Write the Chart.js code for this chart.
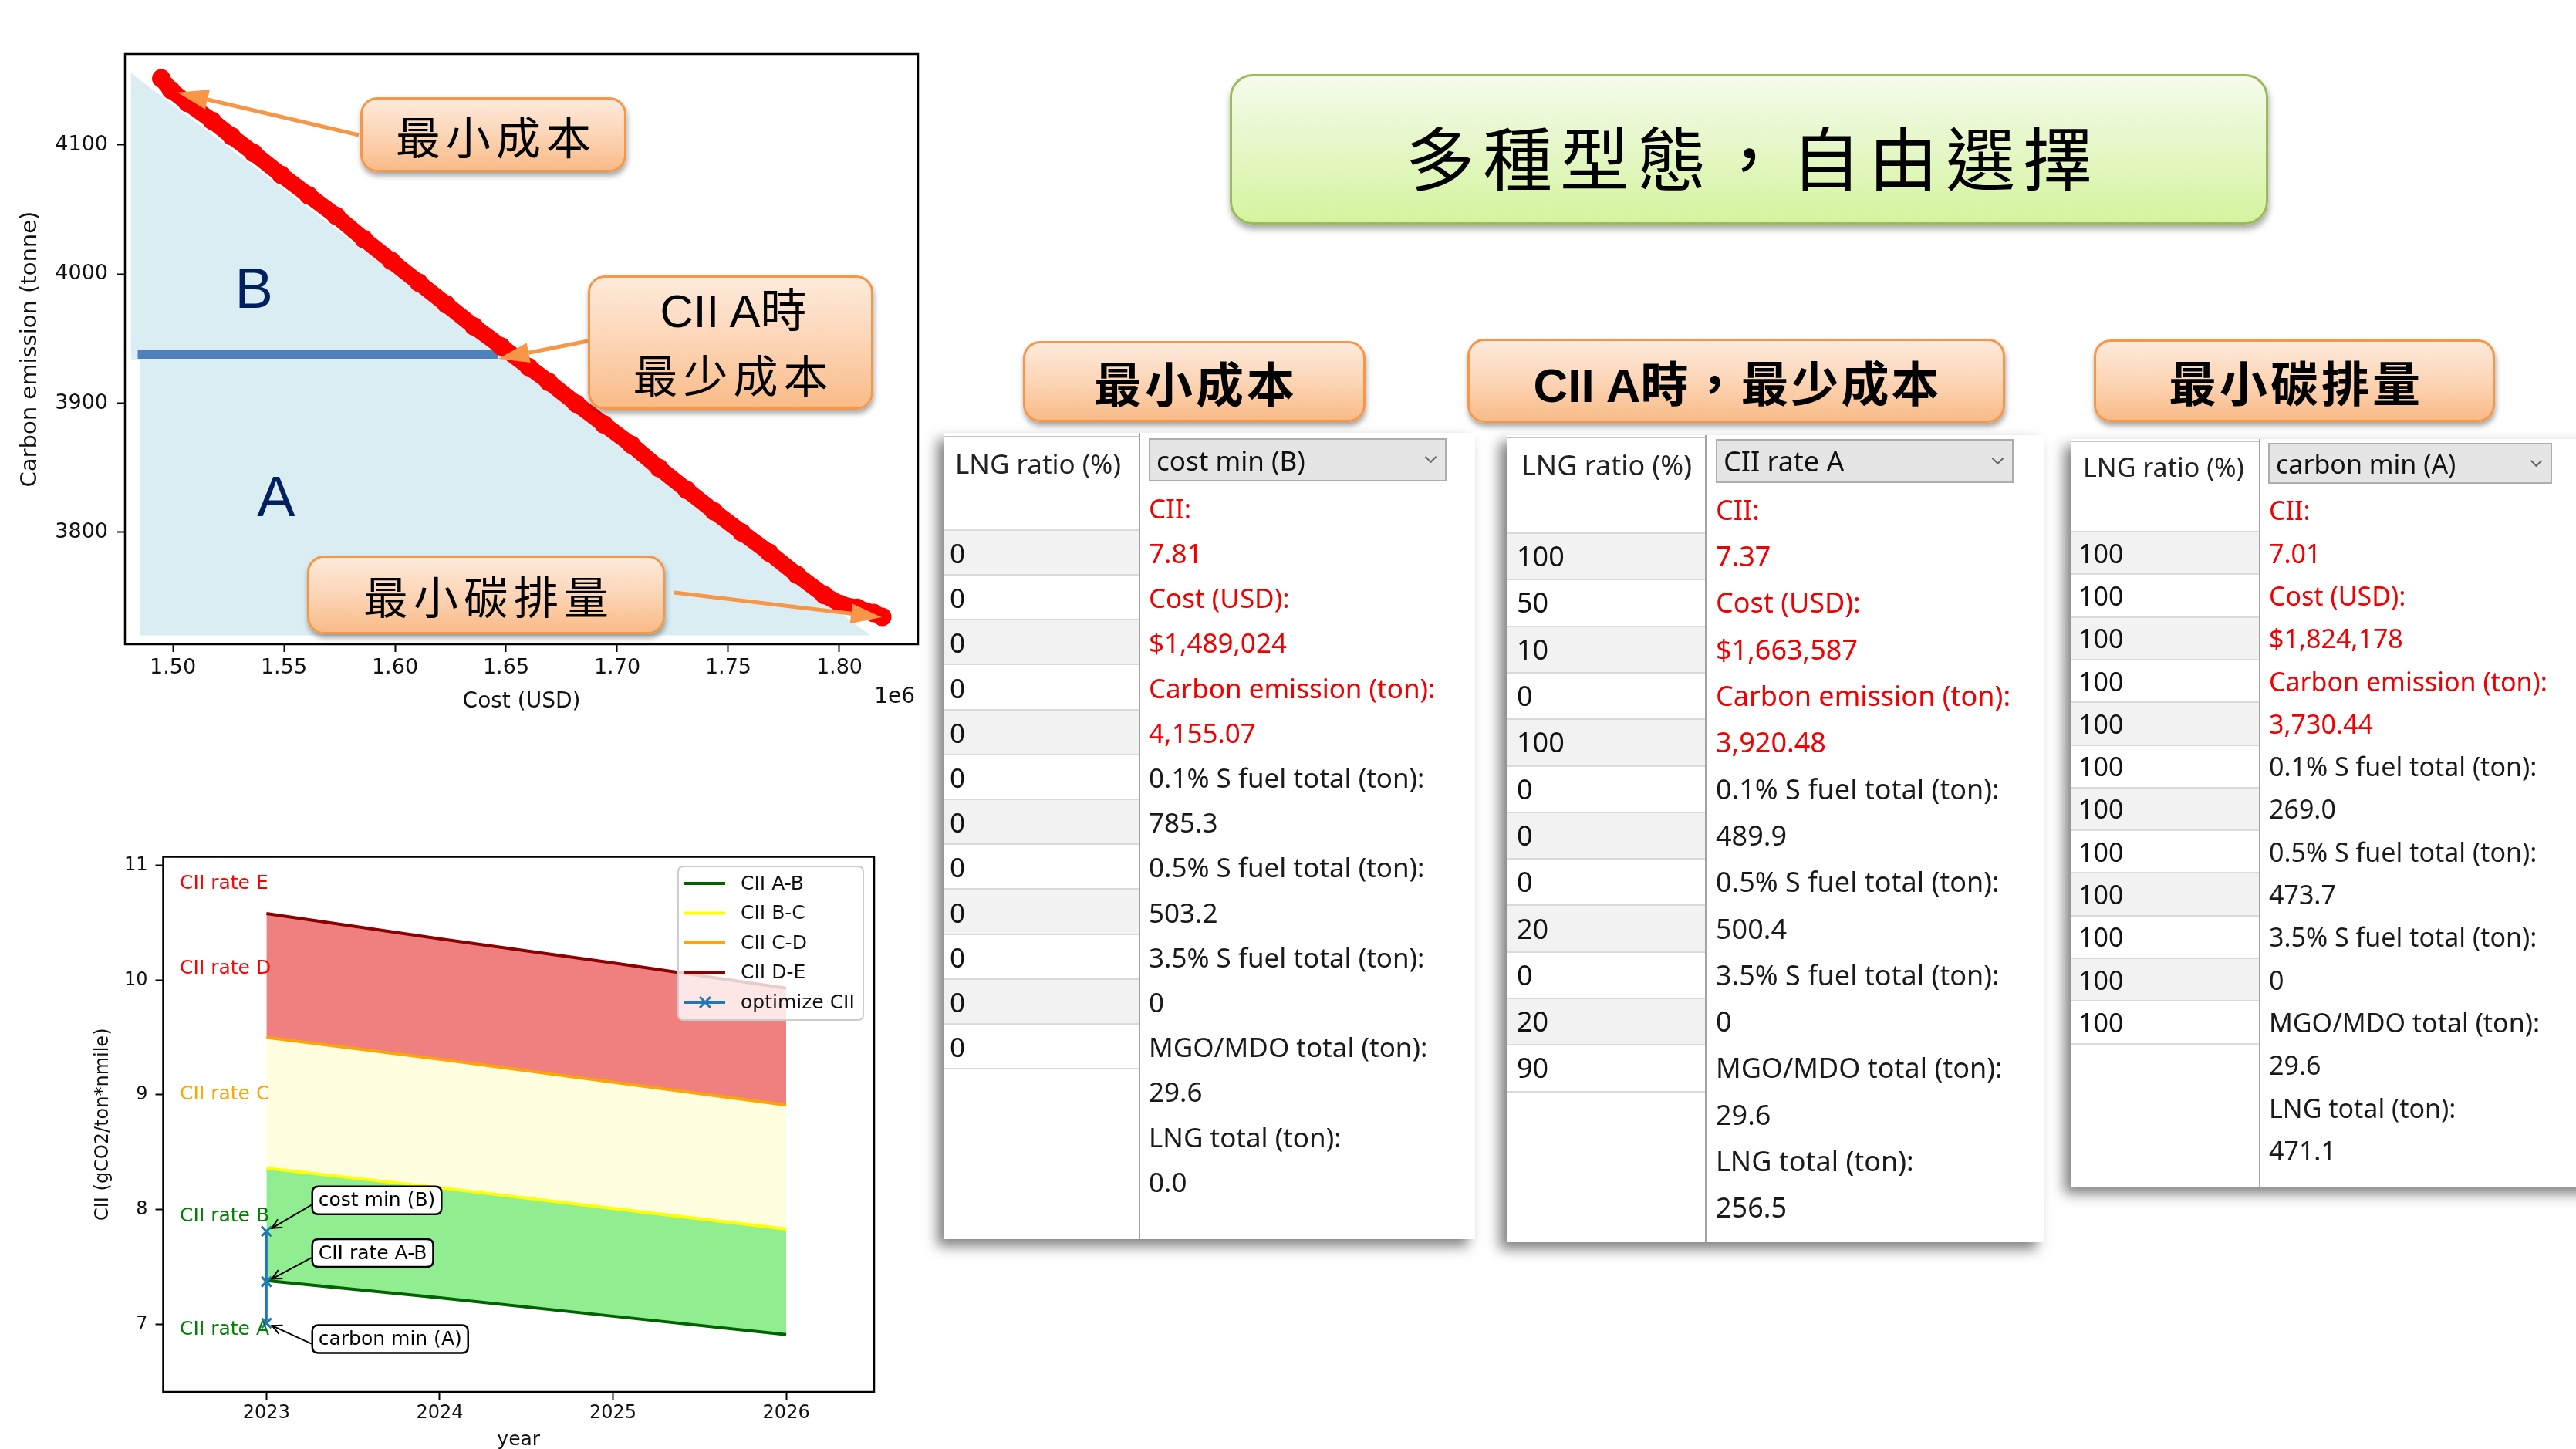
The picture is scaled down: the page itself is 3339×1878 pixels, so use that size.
<!DOCTYPE html>
<html>
<head>
<meta charset="utf-8">
<title>多種型態，自由選擇</title>
<script src="https://cdn.jsdelivr.net/npm/chart.js@4.4.1/dist/chart.umd.min.js"></script>
<style>
html,body{margin:0;padding:0;background:#fff}
body{position:relative;width:3339px;height:1878px;overflow:hidden}
.wrap{position:absolute}
.riquadro{position:absolute;box-sizing:border-box;display:flex;flex-direction:column;align-items:center;justify-content:center;white-space:nowrap;color:#000;font-family:"Noto Sans CJK TC","Noto Sans CJK SC",sans-serif}
.arancio{border:3px solid #f79646;border-radius:22px;background:linear-gradient(180deg,#fdeadb 0%,#fcd5b6 50%,#f9bb88 100%);box-shadow:1px 5px 7px rgba(0,0,0,.35)}
.verde{border:3px solid #9bbb59;border-radius:30px;background:linear-gradient(180deg,#f5fbec 0%,#e5f7c6 50%,#d5f49f 100%);box-shadow:1px 6px 9px rgba(0,0,0,.35)}
.lat{font-family:"Liberation Sans","Noto Sans CJK TC",sans-serif}
.pannello{position:absolute;background:#fff;box-shadow:-9px 9px 16px rgba(0,0,0,.5);font-family:"Noto Sans",sans-serif;overflow:hidden}
.pannello div{position:absolute}
.pannello .t{line-height:1;white-space:nowrap;transform:translateY(-50%)}
.tendina{box-sizing:border-box;background:#e5e5e5;border:2px solid #adadad}
.pannello .freccina{width:9px;height:9px;border-right:2px solid #666;border-bottom:2px solid #666;transform:rotate(45deg)}
</style>
</head>
<body>
<div class="wrap" style="left:0;top:0;width:1230px;height:940px"><canvas id="grafCosto"></canvas></div>
<div class="wrap" style="left:100px;top:1080px;width:1100px;height:798px"><canvas id="grafCII"></canvas></div>

<div class="riquadro arancio" style="left:467px;top:126px;width:345px;height:97px;font-size:58px;letter-spacing:7px;padding-left:7px"><span>最小成本</span></div>
<div class="riquadro arancio" style="left:762px;top:357px;width:370px;height:174px;font-size:58px;line-height:81px;padding-left:7px"><span class="lat" style="font-size:60px">CII A時</span><span style="letter-spacing:7px">最少成本</span></div>
<div class="riquadro arancio" style="left:398px;top:720px;width:464px;height:102px;font-size:58px;letter-spacing:7px;padding-left:7px"><span>最小碳排量</span></div>

<div class="riquadro verde" style="left:1594px;top:96px;width:1346px;height:195px;font-size:90px;letter-spacing:10px;padding-left:10px;padding-top:14px"><span>多種型態，自由選擇</span></div>

<div class="riquadro arancio" style="left:1326px;top:442px;width:444px;height:105px;font-size:62px;font-weight:700;letter-spacing:4px;padding-left:4px"><span>最小成本</span></div>
<div class="riquadro arancio" style="left:1902px;top:439px;width:697px;height:109px;font-size:62px;font-weight:700;letter-spacing:3px;padding-left:3px"><span><span class="lat" style="letter-spacing:0">CII A</span>時，最少成本</span></div>
<div class="riquadro arancio" style="left:2714px;top:440px;width:520px;height:107px;font-size:62px;font-weight:700;letter-spacing:4px;padding-left:4px"><span>最小碳排量</span></div>

<div id="pannello1" class="pannello"></div>
<div id="pannello2" class="pannello"></div>
<div id="pannello3" class="pannello"></div>

<script>
// ---- costo / emissioni (scatter rosso) ----
var costoUSD=[1494800,1499100,1506500,1517700,1526400,1536300,1548700,1561100,1573500,1585900,1598300,1610700,1623100,1635500,1647800,1660200,1669200,1681600,1694000,1706400,1718800,1731300,1743600,1756000,1768400,1780800,1793200,1800600,1808100,1815500,1819300];
var emissioneT=[4151.6,4142.7,4132.7,4118.8,4106.8,4093.9,4077.0,4061.0,4045.1,4027.2,4010.3,3993.4,3976.5,3959.5,3944.0,3928.0,3916.5,3899.6,3883.6,3867.8,3849.8,3832.8,3816.1,3799.9,3784.2,3767.2,3751.3,3744.3,3741.4,3737.4,3734.4];
var zonaBx=[1481100,1650500], zonaBy=[4155.9,3934];
var zonaAx=[1485400,1650500,1813900], zonaAy=[3934,3934,3720];
var lineaAx=[1484200,1646400], lineaAy=[3938,3938];
var tickCosto=[1500000,1550000,1600000,1650000,1700000,1750000,1800000];
var tickEmissione=[3800,3900,4000,4100];
var zonaNomi=["B","A"], zonaNomiX=[1536500,1546500], zonaNomiY=[3988,3826.5];
var frecciaX=[1502100,1646500,1819100], frecciaY=[4140.7,3934.4,3734.1];

// ---- CII per anno ----
var anni=[2023,2024,2025,2026];
var ciiAB=[7.38,7.23,7.07,6.91];
var ciiBC=[8.36,8.19,8.01,7.83];
var ciiCD=[9.50,9.31,9.11,8.91];
var ciiDE=[10.58,10.36,10.15,9.93];
var ottimoAnno=[2023,2023,2023], ottimoCII=[7.81,7.37,7.01];
var serieNomi=["CII A-B","CII B-C","CII C-D","CII D-E","optimize CII"];
var classiTesto=["CII rate E","CII rate D","CII rate C","CII rate B","CII rate A"];
var classiY=[10.84,10.10,9.00,7.94,6.95];
var annotTesto=["cost min (B)","CII rate A-B","carbon min (A)"];
var annotY=[8.08,7.62,6.87];
var annotPunto=[7.81,7.37,7.01];
var tickAnni=[2023,2024,2025,2026], tickCII=[7,8,9,10,11];

// ---- tabelle ----
var voci=["CII:","Cost (USD):","Carbon emission (ton):","0.1% S fuel total (ton):","0.5% S fuel total (ton):","3.5% S fuel total (ton):","MGO/MDO total (ton):","LNG total (ton):"];
var costMinLng=[0,0,0,0,0,0,0,0,0,0,0,0];
var costMinVal=["7.81","$1,489,024","4,155.07","785.3","503.2","0","29.6","0.0"];
var ciiALng=[100,50,10,0,100,0,0,0,20,0,20,90];
var ciiAVal=["7.37","$1,663,587","3,920.48","489.9","500.4","0","29.6","256.5"];
var carbMinLng=[100,100,100,100,100,100,100,100,100,100,100,100];
var carbMinVal=["7.01","$1,824,178","3,730.44","269.0","473.7","0","29.6","471.1"];

function punti(xs,ys){
    var r=[];
    for(var i=0;i<xs.length;i++) r.push({x:xs[i],y:ys[i]});
    return r;
}

function creaPannello(id,p,titolo,lng,val){
    var el=document.getElementById(id);
    el.style.left=p.x+"px"; el.style.top=p.y+"px";
    el.style.width=p.w+"px"; el.style.height=p.h+"px";
    var larg=p.div-p.x;
    var s="";
    for(var i=0;i<lng.length;i++){
        s+="<div style='left:0;top:"+(p.sep+i*p.rh-p.y)+"px;width:"+larg+"px;height:"+p.rh+"px;background:"+(i%2==0?"#f2f2f2":"#fff")+"'></div>";
    }
    for(var i=0;i<=lng.length;i++){
        s+="<div style='left:0;top:"+(p.sep+i*p.rh-p.y-1)+"px;width:"+larg+"px;height:2px;background:#dadada'></div>";
    }
    s+="<div style='left:0;top:"+(p.dd[1]-p.y-3)+"px;width:"+larg+"px;height:2px;background:#c4c4c4'></div>";
    s+="<div style='left:"+larg+"px;top:0;width:2px;height:"+p.h+"px;background:#a3a3a3'></div>";
    s+="<div class='t' style='left:"+(p.hx-p.x)+"px;top:"+(p.hy-p.y)+"px;font-size:"+p.fs+"px;color:#222'>LNG ratio (%)</div>";
    for(var i=0;i<lng.length;i++){
        s+="<div class='t' style='left:"+(p.vx-p.x)+"px;top:"+(p.sep+p.rh/2+i*p.rh-p.y)+"px;font-size:"+p.fs+"px;color:#111'>"+lng[i]+"</div>";
    }
    s+="<div class='tendina' style='left:"+(p.dd[0]-p.x)+"px;top:"+(p.dd[1]-p.y)+"px;width:"+p.dd[2]+"px;height:"+p.dd[3]+"px'></div>";
    s+="<div class='t' style='left:"+(p.dd[0]-p.x+10)+"px;top:"+(p.dd[1]-p.y+p.dd[3]/2)+"px;font-size:"+p.fs+"px;color:#111'>"+titolo+"</div>";
    s+="<div class='freccina' style='left:"+(p.dd[0]-p.x+p.dd[2]-26)+"px;top:"+(p.dd[1]-p.y+p.dd[3]/2-9)+"px'></div>";
    for(var k=0;k<voci.length;k++){
        var col=k<3?"#f00000":"#1a1a1a";
        var y0=p.sep-p.rh/2+2*k*p.rh-p.y;
        s+="<div class='t' style='left:"+(p.tx-p.x)+"px;top:"+y0+"px;font-size:"+p.fs+"px;color:"+col+"'>"+voci[k]+"</div>";
        s+="<div class='t' style='left:"+(p.tx-p.x)+"px;top:"+(y0+p.rh)+"px;font-size:"+p.fs+"px;color:"+col+"'>"+val[k]+"</div>";
    }
    el.innerHTML=s;
}

creaPannello("pannello1",{x:1224,y:561,w:688,h:1045,div:1476,hx:1238,hy:600,dd:[1489,568,386,56],sep:686.8,rh:58.2,vx:1231,tx:1489,fs:35},"cost min (B)",costMinLng,costMinVal);
creaPannello("pannello2",{x:1953,y:564,w:696,h:1046,div:2210,hx:1972,hy:603,dd:[2224,569,386,57],sep:691,rh:60.3,vx:1966,tx:2224,fs:36},"CII rate A",ciiALng,ciiAVal);
creaPannello("pannello3",{x:2685,y:569,w:700,h:969,div:2928,hx:2700,hy:605,dd:[2940,574,368,53],sep:689,rh:55.3,vx:2694,tx:2941,fs:34},"carbon min (A)",carbMinLng,carbMinVal);

Chart.defaults.font.family="DejaVu Sans";
Chart.defaults.color="#111";
Chart.defaults.animation=false;

var cornice={
    id:"cornice",
    afterDraw:function(chart){
        var a=chart.chartArea, ctx=chart.ctx;
        ctx.save();
        ctx.strokeStyle="#000"; ctx.lineWidth=2.5;
        ctx.strokeRect(a.left,a.top,a.right-a.left,a.bottom-a.top);
        ctx.restore();
    }
};

var testiCosto={
    id:"testiCosto",
    afterDatasetsDraw:function(chart){
        var ctx=chart.ctx, xs=chart.scales.x, ys=chart.scales.y;
        ctx.save();
        ctx.fillStyle="#002060";
        ctx.font='74px "Liberation Sans"';
        ctx.textAlign="center"; ctx.textBaseline="middle";
        for(var i=0;i<zonaNomi.length;i++)
            ctx.fillText(zonaNomi[i],xs.getPixelForValue(zonaNomiX[i]),ys.getPixelForValue(zonaNomiY[i])+3);
        ctx.restore();
    },
    afterDraw:function(chart){
        var ctx=chart.ctx, xs=chart.scales.x, ys=chart.scales.y, a=chart.chartArea;
        var inizio=[[465,175],[762,442],[874,768]];
        ctx.save();
        ctx.strokeStyle="#f79646"; ctx.fillStyle="#f79646"; ctx.lineWidth=5;
        for(var i=0;i<frecciaX.length;i++){
            var ex=xs.getPixelForValue(frecciaX[i]), ey=ys.getPixelForValue(frecciaY[i]);
            var sx=inizio[i][0], sy=inizio[i][1];
            var ang=Math.atan2(ey-sy,ex-sx);
            var bx=ex-Math.cos(ang)*40, by=ey-Math.sin(ang)*40;
            ctx.beginPath(); ctx.moveTo(sx,sy); ctx.lineTo(bx,by); ctx.stroke();
            ctx.beginPath(); ctx.moveTo(ex,ey);
            ctx.lineTo(bx+Math.sin(ang)*13,by-Math.cos(ang)*13);
            ctx.lineTo(bx-Math.sin(ang)*13,by+Math.cos(ang)*13);
            ctx.closePath(); ctx.fill();
        }
        ctx.fillStyle="#111";
        ctx.font='28px "DejaVu Sans"';
        ctx.textAlign="center"; ctx.textBaseline="middle";
        ctx.fillText("Cost (USD)",(a.left+a.right)/2,a.bottom+75);
        ctx.textAlign="right";
        ctx.fillText("1e6",a.right-4,a.bottom+69);
        ctx.translate(39,(a.top+a.bottom)/2);
        ctx.rotate(-Math.PI/2);
        ctx.textAlign="center";
        ctx.font='29px "DejaVu Sans"';
        ctx.fillText("Carbon emission (tonne)",0,0);
        ctx.restore();
    }
};

new Chart("grafCosto",{
    type:"line",
    data:{
        datasets:[{
            data:punti(costoUSD,emissioneT),
            borderColor:"#ff0000", backgroundColor:"#ff0000",
            borderWidth:21, borderJoinStyle:"round", borderCapStyle:"round",
            pointRadius:12, pointBorderWidth:0, pointBackgroundColor:"#ff0000",
            fill:false, order:0
        },{
            data:punti(lineaAx,lineaAy),
            borderColor:"#4f81bd", borderWidth:12, pointRadius:0, fill:false, order:1
        },{
            data:punti(zonaBx,zonaBy),
            borderWidth:0, borderColor:"rgba(0,0,0,0)", pointRadius:0,
            backgroundColor:"#daedf3", fill:{value:3934}, order:2
        },{
            data:punti(zonaAx,zonaAy),
            borderWidth:0, borderColor:"rgba(0,0,0,0)", pointRadius:0,
            backgroundColor:"#daedf3", fill:{value:3720}, order:3
        }]
    },
    options:{
        responsive:true, maintainAspectRatio:false,
        layout:{padding:{left:0,top:70,right:40,bottom:0}},
        plugins:{legend:{display:false},tooltip:{enabled:false}},
        elements:{line:{tension:0}},
        scales:{
            x:{
                type:"linear", min:1478470, max:1835420,
                afterBuildTicks:function(s){ s.ticks=tickCosto.map(function(v){return {value:v};}); },
                afterFit:function(s){ s.height=105; },
                ticks:{font:{size:27},color:"#111",padding:5,maxRotation:0,autoSkip:false,
                       callback:function(v){ return (v/1e6).toFixed(2); }},
                grid:{drawOnChartArea:false,tickLength:10,tickWidth:2,tickColor:"#000"},
                border:{display:false}
            },
            y:{
                type:"linear", min:3713.2, max:4170.5,
                afterBuildTicks:function(s){ s.ticks=tickEmissione.map(function(v){return {value:v};}); },
                afterFit:function(s){ s.width=162; },
                ticks:{font:{size:27},color:"#111",padding:12,autoSkip:false,
                       callback:function(v){ return String(v); }},
                grid:{drawOnChartArea:false,tickLength:10,tickWidth:2,tickColor:"#000"},
                border:{display:false}
            }
        }
    },
    plugins:[cornice,testiCosto]
});

function rettTondo(ctx,x,y,w,h,r){
    ctx.beginPath();
    ctx.moveTo(x+r,y); ctx.lineTo(x+w-r,y); ctx.quadraticCurveTo(x+w,y,x+w,y+r);
    ctx.lineTo(x+w,y+h-r); ctx.quadraticCurveTo(x+w,y+h,x+w-r,y+h);
    ctx.lineTo(x+r,y+h); ctx.quadraticCurveTo(x,y+h,x,y+h-r);
    ctx.lineTo(x,y+r); ctx.quadraticCurveTo(x,y,x+r,y); ctx.closePath();
}

var classiColori=["#ff0000","#ff0000","#ffa500","#008000","#008000"];

var testiCII={
    id:"testiCII",
    afterDraw:function(chart){
        var ctx=chart.ctx, xs=chart.scales.x, ys=chart.scales.y, a=chart.chartArea;
        ctx.save();
        ctx.font='25px "DejaVu Sans"';
        ctx.textBaseline="middle"; ctx.textAlign="left";
        for(var i=0;i<classiTesto.length;i++){
            ctx.fillStyle=classiColori[i];
            ctx.fillText(classiTesto[i],xs.getPixelForValue(2022.5),ys.getPixelForValue(classiY[i]));
        }
        // annotazioni
        for(var i=0;i<annotTesto.length;i++){
            var tx=xs.getPixelForValue(2023.3), ty=ys.getPixelForValue(annotY[i]);
            var w=ctx.measureText(annotTesto[i]).width;
            var bx=tx-8, by=ty-18;
            var px=xs.getPixelForValue(2023), py=ys.getPixelForValue(annotPunto[i]);
            var sx=bx-1, sy=ty+6;
            var ang=Math.atan2(py-sy,px-sx);
            var ex=px-Math.cos(ang)*8, ey=py-Math.sin(ang)*8;
            ctx.strokeStyle="#000"; ctx.lineWidth=2;
            ctx.beginPath(); ctx.moveTo(sx,sy); ctx.lineTo(ex,ey); ctx.stroke();
            ctx.beginPath();
            ctx.moveTo(ex-Math.cos(ang-0.45)*14,ey-Math.sin(ang-0.45)*14);
            ctx.lineTo(ex,ey);
            ctx.lineTo(ex-Math.cos(ang+0.45)*14,ey-Math.sin(ang+0.45)*14);
            ctx.stroke();
            rettTondo(ctx,bx,by,w+16,36,8);
            ctx.fillStyle="#fff"; ctx.fill();
            ctx.lineWidth=2.5; ctx.stroke();
            ctx.fillStyle="#000";
            ctx.fillText(annotTesto[i],tx,ty+1);
        }
        // legenda
        var lx=a.right-14-240, ly=a.top+12.5;
        rettTondo(ctx,lx,ly,240,199,7);
        ctx.fillStyle="rgba(255,255,255,0.8)"; ctx.fill();
        ctx.strokeStyle="#cccccc"; ctx.lineWidth=2; ctx.stroke();
        var ds=chart.data.datasets;
        for(var i=0;i<ds.length;i++){
            var yy=ly+22+i*38.5;
            ctx.strokeStyle=ds[i].borderColor; ctx.lineWidth=4;
            ctx.beginPath(); ctx.moveTo(lx+8,yy); ctx.lineTo(lx+61,yy); ctx.stroke();
            if(ds[i].pointStyle=="crossRot"){
                ctx.lineWidth=3;
                ctx.beginPath();
                ctx.moveTo(lx+28,yy-7); ctx.lineTo(lx+42,yy+7);
                ctx.moveTo(lx+28,yy+7); ctx.lineTo(lx+42,yy-7);
                ctx.stroke();
            }
            ctx.fillStyle="#111";
            ctx.fillText(ds[i].label,lx+81,yy+1);
        }
        // titoli assi
        ctx.fillStyle="#111";
        ctx.textAlign="center";
        ctx.fillText("year",(a.left+a.right)/2,a.bottom+62);
        ctx.translate(34,(a.top+a.bottom)/2);
        ctx.rotate(-Math.PI/2);
        ctx.font='24px "DejaVu Sans"';
        ctx.fillText("CII (gCO2/ton*nmile)",0,0);
        ctx.restore();
    }
};

new Chart("grafCII",{
    type:"line",
    data:{
        datasets:[{
            label:serieNomi[0], data:punti(anni,ciiAB),
            borderColor:"#006400", borderWidth:4, pointRadius:0, fill:false
        },{
            label:serieNomi[1], data:punti(anni,ciiBC),
            borderColor:"#ffff00", borderWidth:4, pointRadius:0,
            backgroundColor:"#90ee90", fill:"-1"
        },{
            label:serieNomi[2], data:punti(anni,ciiCD),
            borderColor:"#ffa500", borderWidth:4, pointRadius:0,
            backgroundColor:"#ffffe0", fill:"-1"
        },{
            label:serieNomi[3], data:punti(anni,ciiDE),
            borderColor:"#8b0000", borderWidth:4, pointRadius:0,
            backgroundColor:"#f08080", fill:"-1"
        },{
            label:serieNomi[4], data:punti(ottimoAnno,ottimoCII),
            borderColor:"#1f77b4", borderWidth:3, pointStyle:"crossRot",
            pointRadius:9, pointBorderWidth:3, pointBorderColor:"#1f77b4",
            fill:false, order:-1
        }]
    },
    options:{
        responsive:true, maintainAspectRatio:false,
        layout:{padding:{left:0,top:30.5,right:67,bottom:0}},
        plugins:{legend:{display:false},tooltip:{enabled:false}},
        elements:{line:{tension:0}},
        scales:{
            x:{
                type:"linear", min:2022.404, max:2026.507,
                afterBuildTicks:function(s){ s.ticks=tickAnni.map(function(v){return {value:v};}); },
                afterFit:function(s){ s.height=74; },
                ticks:{font:{size:24},color:"#111",padding:3,maxRotation:0,autoSkip:false,
                       callback:function(v){ return String(v); }},
                grid:{drawOnChartArea:false,tickLength:10,tickWidth:2,tickColor:"#000"},
                border:{display:false}
            },
            y:{
                type:"linear", min:6.41, max:11.075,
                afterBuildTicks:function(s){ s.ticks=tickCII.map(function(v){return {value:v};}); },
                afterFit:function(s){ s.width=111.5; },
                ticks:{font:{size:24},color:"#111",padding:10,autoSkip:false,
                       callback:function(v){ return String(v); }},
                grid:{drawOnChartArea:false,tickLength:10,tickWidth:2,tickColor:"#000"},
                border:{display:false}
            }
        }
    },
    plugins:[cornice,testiCII]
});
</script>
</body>
</html>
